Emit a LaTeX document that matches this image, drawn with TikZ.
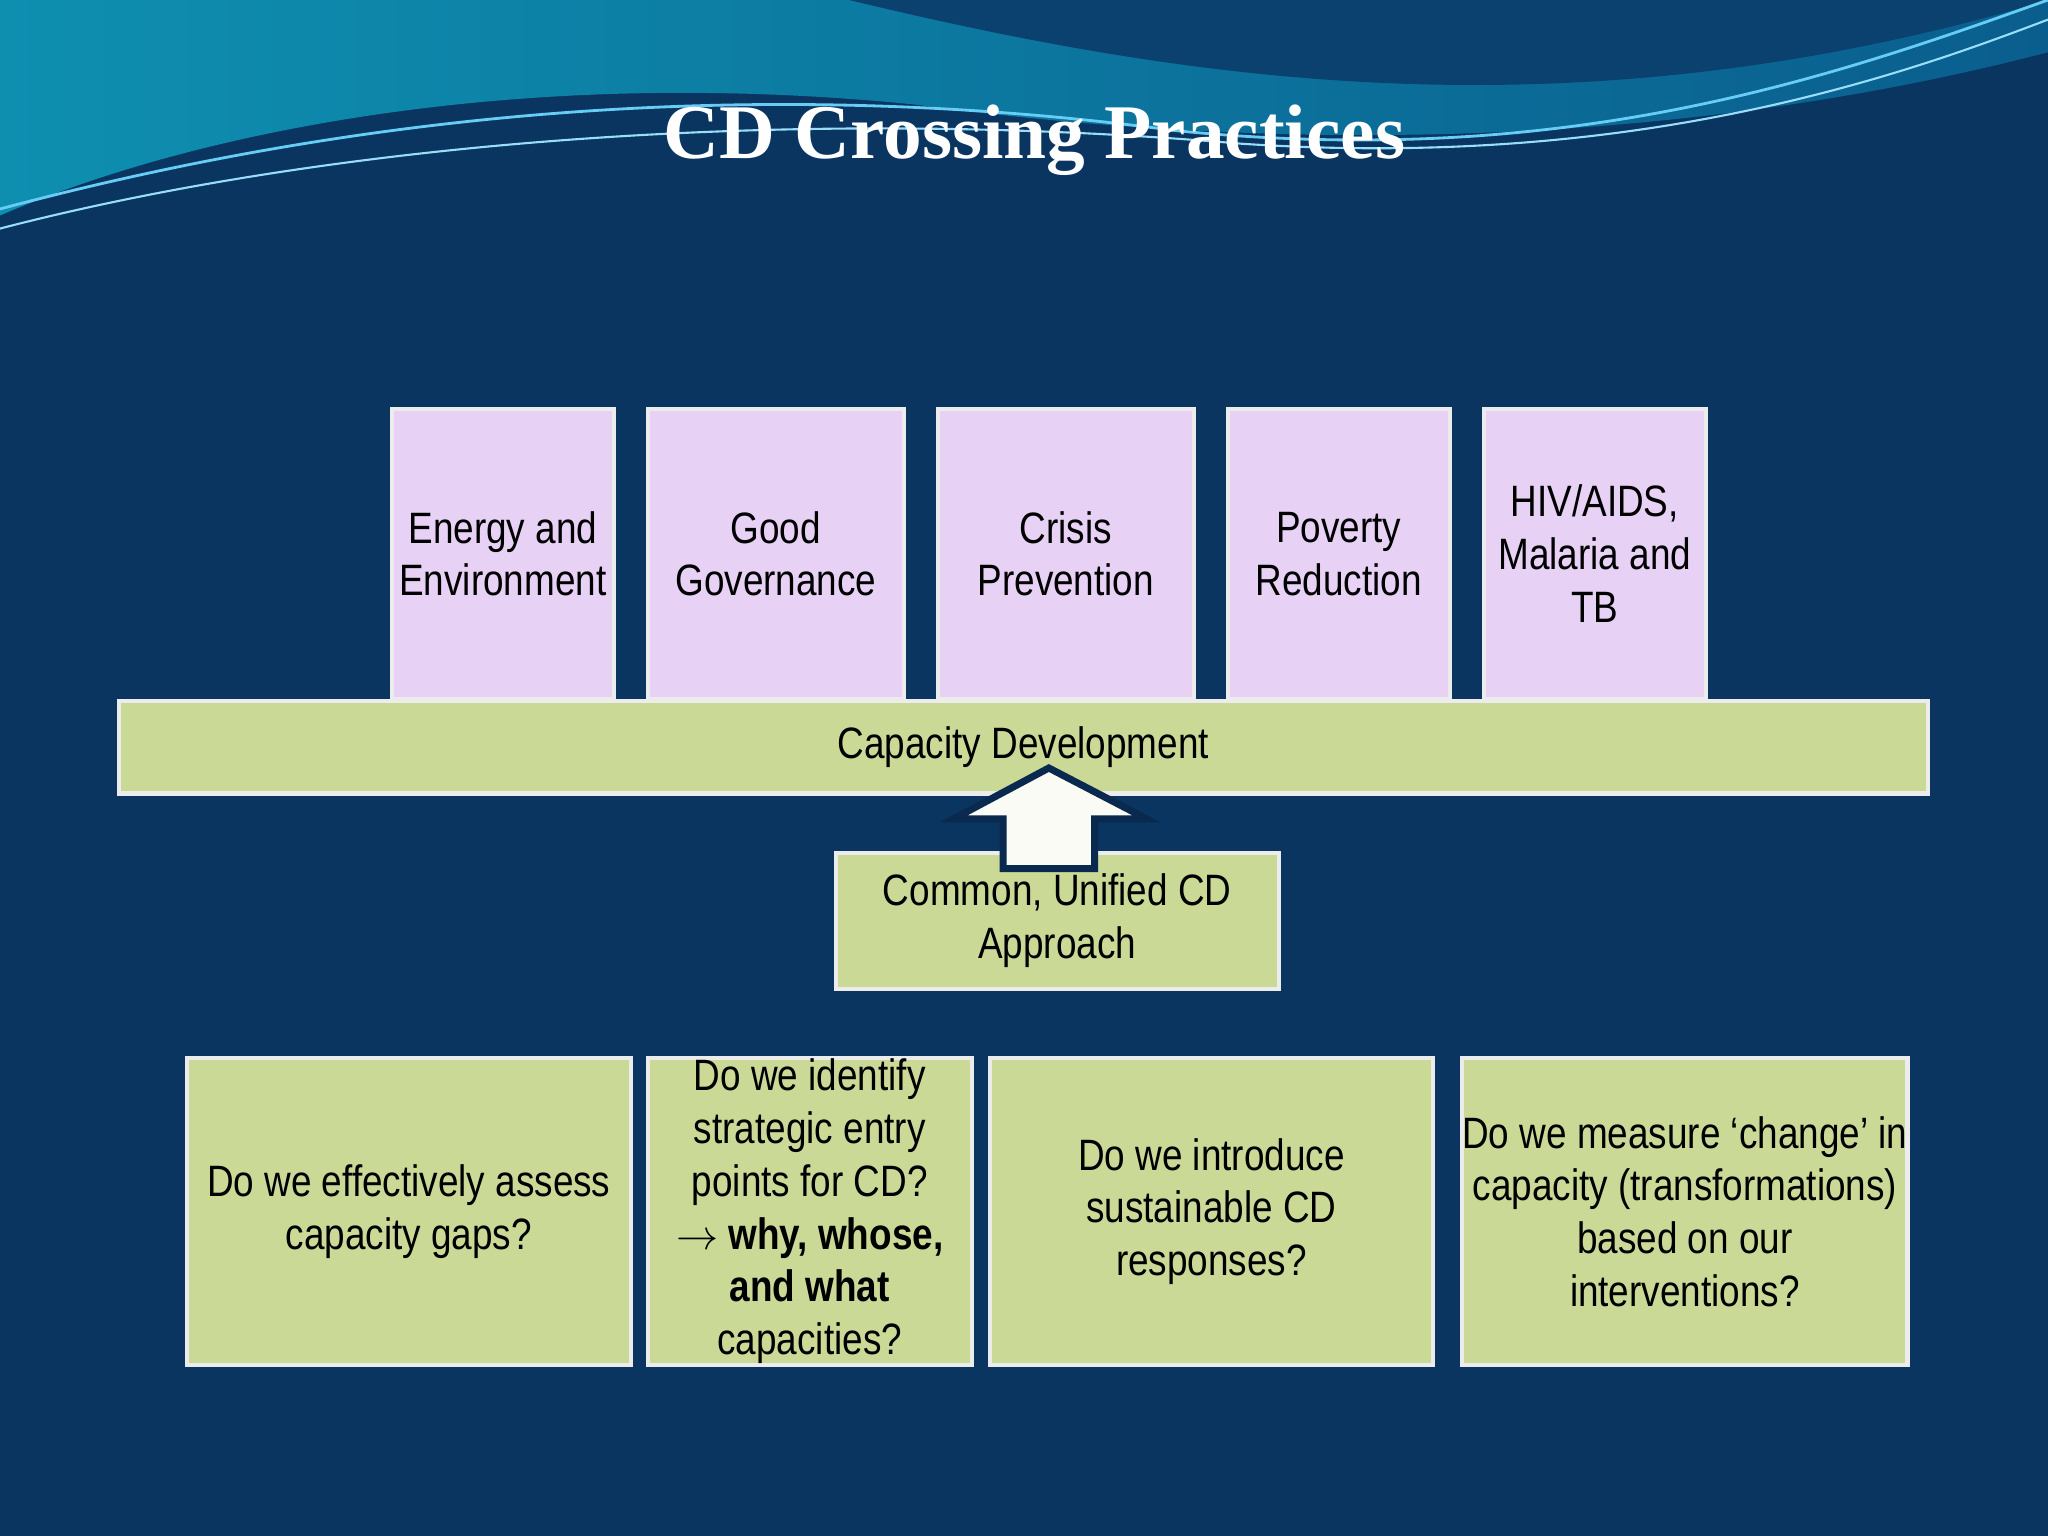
\documentclass[tikz,border=0pt]{standalone}
\usepackage{fontspec}
\setmainfont{Liberation Sans}[FakeStretch=0.84]
\newfontfamily\titlefont{Liberation Serif}
\begin{document}
\definecolor{bg}{HTML}{0B3561}
\definecolor{pur}{HTML}{E7D1F5}
\definecolor{grn}{HTML}{CBD997}
\definecolor{wav1}{HTML}{0E8FB0}
\definecolor{wav2}{HTML}{0A5E8E}
\def\px{0.013061cm}
\begin{tikzpicture}[x=0.013061cm,y=-0.013061cm,
  box/.style={draw=white!85!gray,line width=1.2pt,inner sep=0pt,align=center,font=\fontsize{12.5}{15}\selectfont},
  pbox/.style={box,fill=pur},
  gbox/.style={box,fill=grn}]
\fill[bg] (0,0) rectangle (1568,1176);
\useasboundingbox (0,0) rectangle (1568,1176);
% waves
\shade[left color=wav1,right color=wav2] (0,0) -- (1568,0) -- (1568,40) .. controls (1300,110) and (1000,120) .. (700,80) .. controls (400,50) and (150,100) .. (0,165) -- cycle;
\fill[bg!70!wav2] (650,0) .. controls (900,60) and (1200,110) .. (1568,0) -- cycle;
\draw[cyan!60,line width=0.8pt] (0,160) .. controls (300,80) and (600,60) .. (900,100) .. controls (1200,130) and (1400,60) .. (1568,0);
\draw[cyan!40,line width=0.6pt] (0,175) .. controls (250,110) and (600,80) .. (950,110) .. controls (1250,130) and (1450,60) .. (1568,15);
\node[text=white,font=\titlefont\bfseries\fontsize{22}{26}\selectfont] (title) at (792,107) {CD Crossing Practices};
% purple
\node[pbox,minimum width=170*\px,minimum height=222*\px] (e) at (385,424) {Energy and\\Environment};
\node[pbox,minimum width=196*\px,minimum height=222*\px] (g) at (594,424) {Good\\Governance};
\node[pbox,minimum width=196*\px,minimum height=222*\px] (c) at (816,424) {Crisis\\Prevention};
\node[pbox,minimum width=170*\px,minimum height=222*\px] (p) at (1025,424) {Poverty\\Reduction};
\node[pbox,minimum width=170*\px,minimum height=222*\px] (h) at (1221,424) {HIV/AIDS,\\Malaria and\\TB};
\node[gbox,minimum width=1385*\px,minimum height=71*\px] (cd) at (783.5,572) {Capacity Development};
\node[gbox,minimum width=339*\px,minimum height=104*\px] (cu) at (809.5,705) {Common, Unified CD\\Approach};
% arrow
\draw[fill=white!90!grn,draw=bg!80!black,line width=2pt] (768,665) -- (768,627) -- (730,627) -- (803,588) -- (878,627) -- (838,627) -- (838,665) -- cycle;
% bottom
\node[gbox,minimum width=340*\px,minimum height=235*\px] (b1) at (313,927.5) {Do we effectively assess\\capacity gaps?};
\node[gbox,minimum width=248*\px,minimum height=235*\px] (b2) at (620,927.5) {Do we identify\\strategic entry\\points for CD?\\$\rightarrow$ \textbf{why, whose,}\\\textbf{and what}\\capacities?};
\node[gbox,minimum width=339*\px,minimum height=235*\px] (b3) at (927.5,927.5) {Do we introduce\\sustainable CD\\responses?};
\node[gbox,minimum width=340*\px,minimum height=235*\px] (b4) at (1290,927.5) {Do we measure ‘change’ in\\capacity (transformations)\\based on our\\interventions?};
\end{tikzpicture}
\end{document}
